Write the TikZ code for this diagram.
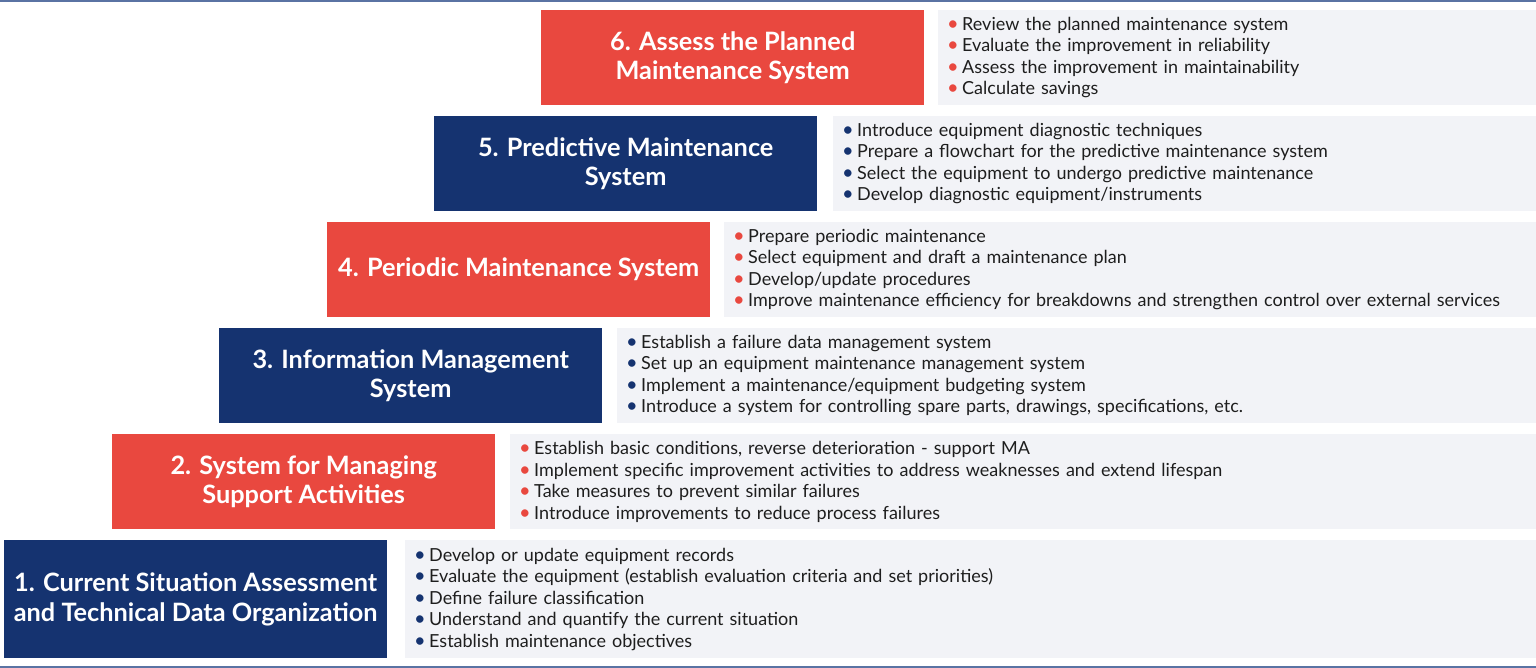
\documentclass[tikz,border=0pt]{standalone}
\usepackage{fontspec}
\setmainfont{Lato}
\definecolor{tpmred}{HTML}{E9483F}
\definecolor{tpmnavy}{HTML}{153370}
\definecolor{panelgray}{HTML}{F2F3F7}
\definecolor{rulecol}{HTML}{5A73A3}
\definecolor{txtcol}{HTML}{1E1E1E}
\newcommand{\rb}{\makebox[15pt][l]{\textcolor{tpmred}{\fontsize{20}{21.5}\selectfont•}}}
\newcommand{\nb}{\makebox[15pt][l]{\textcolor{tpmnavy}{\fontsize{20}{21.5}\selectfont•}}}
\begin{document}
\begin{tikzpicture}[x=1pt,y=-1pt,
  stagebox/.style={fill=#1, draw=none, inner sep=0pt, text=white,
    font=\fontsize{25.3}{29.5}\selectfont\bfseries, align=center,
    minimum width=383pt, anchor=north west},
  panel/.style={fill=panelgray, draw=none, inner xsep=9pt, inner ysep=0pt,
    text=txtcol, font=\fontsize{18}{21.5}\selectfont, align=left,
    anchor=north west},
  rulebar/.style={draw=rulecol, line width=1.6pt}]
\useasboundingbox (0,0) rectangle (1536,668);
\fill[white] (0,0) rectangle (1536,668);
% rules
\coordinate (tl) at (0,0.8); \coordinate (tr) at (1536,0.8);
\coordinate (bl) at (0,666.8); \coordinate (br) at (1536,666.8);
\draw[rulebar] (tl) -- (tr);
\draw[rulebar] (bl) -- (br);
% stage 6
\node[stagebox=tpmred, minimum height=95pt] (s6) at (541,10)
  {6. Assess the Planned\\Maintenance System};
\node[panel, minimum width=598pt, text width=580pt, minimum height=95pt] (p6) at (938,10)
  {\rb Review the planned maintenance system\\
   \rb Evaluate the improvement in reliability\\
   \rb Assess the improvement in maintainability\\
   \rb Calculate savings};
% stage 5
\node[stagebox=tpmnavy, minimum height=95pt] (s5) at (434,116)
  {5. Predictive Maintenance\\System};
\node[panel, minimum width=703pt, text width=685pt, minimum height=95pt] (p5) at (833,116)
  {\nb Introduce equipment diagnostic techniques\\
   \nb Prepare a flowchart for the predictive maintenance system\\
   \nb Select the equipment to undergo predictive maintenance\\
   \nb Develop diagnostic equipment/instruments};
% stage 4
\node[stagebox=tpmred, minimum height=95pt] (s4) at (327,222)
  {4. Periodic Maintenance System};
\node[panel, minimum width=812pt, text width=794pt, minimum height=95pt] (p4) at (724,222)
  {\rb Prepare periodic maintenance\\
   \rb Select equipment and draft a maintenance plan\\
   \rb Develop/update procedures\\
   \rb Improve maintenance efficiency for breakdowns and strengthen control over external services};
% stage 3
\node[stagebox=tpmnavy, minimum height=95pt] (s3) at (219,328)
  {3. Information Management\\System};
\node[panel, minimum width=919pt, text width=901pt, minimum height=95pt] (p3) at (617,328)
  {\nb Establish a failure data management system\\
   \nb Set up an equipment maintenance management system\\
   \nb Implement a maintenance/equipment budgeting system\\
   \nb Introduce a system for controlling spare parts, drawings, specifications, etc.};
% stage 2
\node[stagebox=tpmred, minimum height=95pt] (s2) at (112,434)
  {2. System for Managing\\Support Activities};
\node[panel, minimum width=1026pt, text width=1008pt, minimum height=95pt] (p2) at (510,434)
  {\rb Establish basic conditions, reverse deterioration - support MA\\
   \rb Implement specific improvement activities to address weaknesses and extend lifespan\\
   \rb Take measures to prevent similar failures\\
   \rb Introduce improvements to reduce process failures};
% stage 1
\node[stagebox=tpmnavy, minimum height=118pt] (s1) at (4,540)
  {1. Current Situation Assessment\\and Technical Data Organization};
\node[panel, minimum width=1131pt, text width=1113pt, minimum height=118pt] (p1) at (405,540)
  {\nb Develop or update equipment records\\
   \nb Evaluate the equipment (establish evaluation criteria and set priorities)\\
   \nb Define failure classification\\
   \nb Understand and quantify the current situation\\
   \nb Establish maintenance objectives};
\end{tikzpicture}
\end{document}
